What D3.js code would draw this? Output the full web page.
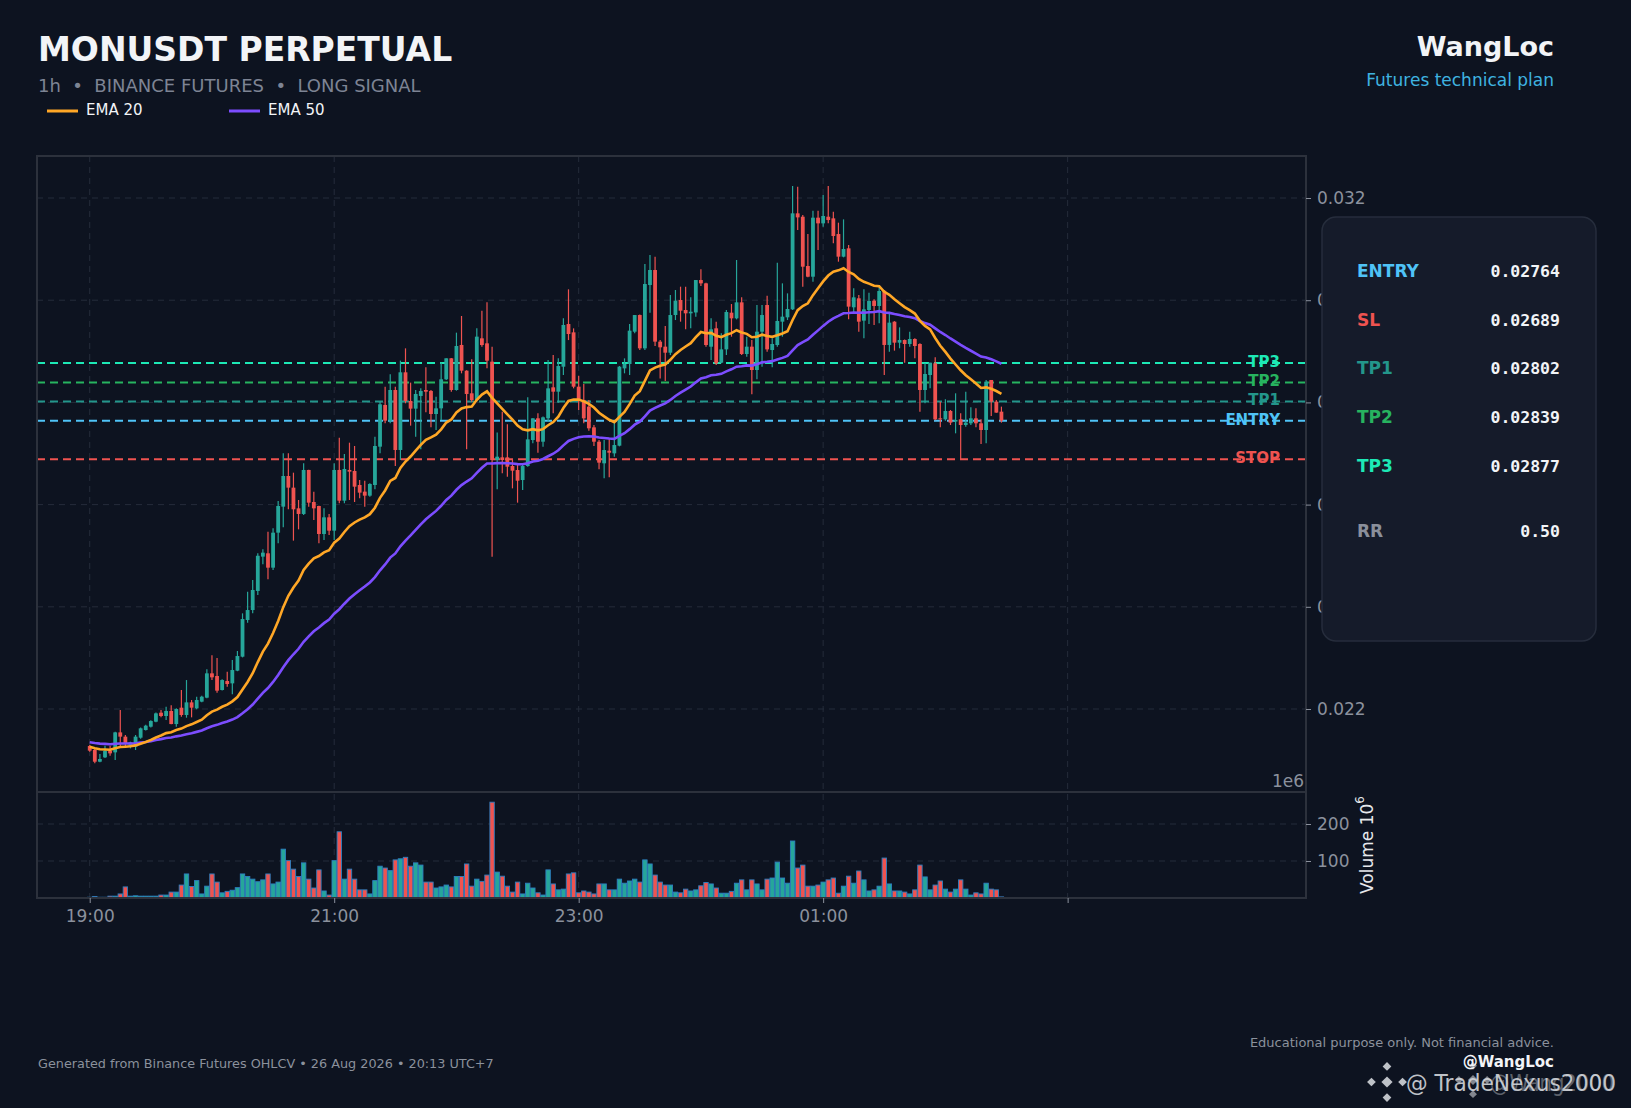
<!DOCTYPE html>
<html>
<head>
<meta charset="utf-8">
<script src="https://cdn.jsdelivr.net/npm/d3@7/dist/d3.min.js"></script>
<style>
  body { margin: 0; background: #0d1320; }
  svg { display: block; font-family: "DejaVu Sans", sans-serif; }
</style>
</head>
<body>
<svg id="chart" width="1631" height="1108"></svg>
<script>
// ---- candles (one per step, 48 steps = 2 hours, first at 19:00) ----
const opens = [
  .021276,.021198,.020969,.021054,.021185,.021152,.021543,.021459,.021263,.021263,
  .021439,.021589,.021654,.021752,.021928,.021863,.021961,.021706,.022026,.021883,
  .02213,.022013,.022144,.022222,.022698,.022646,.022372,.022548,.022502,.02275,
  .023024,.023742,.023937,.02431,.024982,.025047,.024766,.025451,.02596,.02656,
  .026332,.025927,.025817,.026678,.026051,.025973,.025425,.025751,.02549,.026678,
  .026077,.026678,.026658,.026384,.026254,.026175,.026384,.027134,.02795,.027643,
  .028243,.027069,.028589,.028028,.027878,.028126,.028243,.028224,.027773,.027884,
  .028452,.028863,.028243,.029124,.028621,.028178,.028047,.029254,.029156,.028797,
  .026873,.026925,.026925,.026755,.026677,.026481,.026755,.027264,.027689,.027231,
  .027689,.028295,.02821,.028699,.029534,.029371,.028308,.028048,.027917,.027512,
  .027231,.026808,.027055,.027003,.027153,.028666,.028752,.029384,.02971,.029058,
  .030297,.030591,.029189,.029091,.028973,.02971,.030004,.029808,.029743,.02976,
  .030395,.03033,.02909,.02945,.028777,.029038,.029756,.029645,.029958,.028947,
  .029091,.028634,.029384,.029906,.029025,.029123,.02958,.029665,.029821,.0317,
  .031634,.030669,.03046,.031615,.031504,.031634,.031602,.031295,.030852,.031015,
  .029861,.030037,.0296,.029808,.029991,.029887,.030187,.029124,.02958,.029169,
  .029221,.029143,.029241,.029143,.028243,.028536,.028765,.027689,.027669,.027832,
  .027625,.027669,.027558,.027591,.027689,.027591,.02746,.028439,.028015,.027819
];
const highs = [
  .021296,.02123,.02112,.021282,.021282,.021556,.02198,.021491,.02136,.021491,
  .02164,.02169,.02178,.02193,.02198,.022046,.022072,.022013,.022372,.022567,
  .022176,.022241,.02226,.022776,.02305,.022998,.02258,.02273,.022959,.023135,
  .023872,.024296,.024524,.025047,.025125,.02547,.025536,.026071,.027004,.027004,
  .026625,.02609,.026808,.02668,.026254,.02598,.025927,.025817,.026808,.02731,
  .026991,.027212,.027147,.026482,.026469,.026417,.02733,.028015,.028308,.02855,
  .028308,.028817,.029058,.028387,.028243,.028276,.028687,.028243,.028113,.028778,
  .028863,.02887,.029365,.029691,.02863,.028843,.02945,.029795,.029958,.02909,
  .02741,.027819,.027571,.026873,.026808,.026795,.028099,.027689,.027786,.027722,
  .02883,.028928,.028862,.029645,.030213,.029449,.028523,.02836,.028048,.027558,
  .027264,.027264,.027297,.027623,.028712,.028862,.029534,.02971,.02972,.030708,
  .030884,.030852,.02922,.029495,.030102,.0302,.030265,.030265,.030056,.030395,
  .030604,.03034,.029645,.02958,.029352,.029808,.029925,.030787,.030056,.029286,
  .029221,.029906,.029906,.030089,.029254,.030734,.03033,.030134,.032235,.032222,
  .031667,.031295,.031752,.031752,.032058,.032235,.031732,.031517,.031582,.03108,
  .030233,.030102,.030213,.030148,.030017,.030298,.0302,.029743,.02959,.029469,
  .02923,.029385,.029254,.029156,.028765,.028778,.028882,.028015,.028061,.027852,
  .028178,.027787,.028211,.027904,.027884,.027669,.028439,.028439,.028048,.027917
];
const lows = [
  .021165,.020937,.020956,.02104,.021087,.021002,.021263,.021263,.02123,.021198,
  .02142,.02158,.02164,.02174,.021837,.021785,.0217,.021654,.02185,.02183,
  .021837,.021993,.02213,.02221,.022567,.02232,.02236,.022437,.022287,.02274,
  .02301,.02369,.023872,.02423,.024831,.024538,.02472,.025242,.025556,.025908,
  .025295,.025516,.025797,.02596,.025699,.025242,.025308,.025405,.025308,.026025,
  .026025,.02609,.026051,.026123,.02596,.026156,.026299,.027004,.027591,.027591,
  .026756,.026873,.027982,.027545,.02733,.027082,.027806,.027513,.02746,.027656,
  .028439,.02821,.02823,.028569,.027082,.028015,.028015,.02909,.028667,.024981,
  .026299,.026612,.026547,.026318,.026038,.026286,.026742,.027199,.027016,.027134,
  .027623,.027786,.027995,.028536,.02922,.028275,.027851,.02759,.027447,.027147,
  .02669,.026514,.026534,.026938,.02714,.028569,.028536,.029352,.029026,.029026,
  .029756,.029104,.02847,.028419,.028927,.029612,.02958,.02943,.029449,.029678,
  .030278,.029091,.02883,.028732,.028764,.028927,.029286,.029625,.028927,.028895,
  .028158,.028451,.028699,.028993,.028686,.029091,.029286,.029612,.029808,.031374,
  .030265,.030447,.030362,.030982,.031439,.031504,.031113,.030754,.030839,.029626,
  .029743,.029385,.029254,.029535,.029515,.029548,.028536,.028993,.029013,.029059,
  .028778,.029091,.028863,.027819,.027982,.028276,.02765,.027513,.027643,.027558,
  .027395,.026886,.027526,.027558,.027513,.027186,.027199,.027734,.0278,.027604
];
const closes = [
  .021185,.020969,.021022,.021178,.021132,.021543,.021459,.021328,.021348,.021459,
  .021622,.021674,.021765,.021915,.021863,.021961,.021706,.022,.021883,.02213,
  .022026,.022176,.022241,.022698,.02262,.022359,.022567,.022489,.022763,.023037,
  .023761,.023937,.024329,.024999,.02506,.024766,.025451,.025973,.02656,.026332,
  .025908,.025817,.026678,.026038,.025927,.025425,.025751,.02549,.026678,.026077,
  .026697,.026645,.026351,.026234,.026175,.026404,.027147,.027963,.027643,.028243,
  .027069,.028589,.028028,.027878,.028165,.028224,.02821,.027773,.027884,.028452,
  .028863,.028243,.029104,.028621,.028165,.028047,.029287,.029123,.028817,.026873,
  .026938,.026873,.026742,.026664,.026468,.026755,.027277,.027689,.027231,.027708,
  .028275,.02821,.028712,.029515,.029338,.028308,.02806,.027688,.027493,.027231,
  .026821,.027068,.027016,.027166,.028699,.028752,.029404,.02971,.029058,.030317,
  .030591,.029189,.029078,.028973,.02971,.029991,.029795,.029743,.029775,.030395,
  .03033,.029123,.02943,.028764,.029038,.029769,.029645,.029958,.028947,.029091,
  .028634,.029384,.02971,.029038,.029143,.029593,.029678,.029828,.0317,.031621,
  .030656,.03046,.031615,.031504,.031648,.031569,.031256,.030852,.031002,.029874,
  .030056,.02958,.029821,.029985,.029887,.03018,.029124,.029561,.029169,.029221,
  .029143,.029241,.029104,.028243,.028556,.028778,.027669,.027669,.027832,.027604,
  .027656,.027558,.027604,.027689,.027591,.02746,.028406,.028015,.0278,.027643
];
// volume in millions
const volumes = [
  2,4,2,2,5,5,11,30,5,6,
  5,5,5,5,8,8,16,16,35,65,
  31,47,11,32,65,43,14,18,21,28,
  65,58,51,44,49,65,38,43,132,101,
  78,58,95,51,27,76,19,8,101,179,
  51,78,51,22,22,11,47,86,81,74,
  103,106,110,86,95,89,43,43,27,30,
  35,30,58,58,92,32,51,45,62,259,
  70,59,32,16,43,11,40,27,14,8,
  76,38,22,24,65,68,14,19,16,11,
  38,38,22,22,51,40,46,51,43,103,
  92,62,43,35,35,16,14,24,19,22,
  33,42,38,27,13,13,18,40,49,22,
  49,38,22,51,54,97,54,40,154,81,
  89,32,32,35,43,49,54,13,32,59,
  40,73,49,19,22,32,108,38,19,19,
  16,11,22,89,57,22,35,46,24,16,
  24,49,24,8,14,11,40,24,22,3
];

// EMA values just before the window
const ema20Start = 0.02126;
const ema50Start = 0.02135;

// axes
const xTickIdx = [0, 48, 96, 144, 192];
const xTickLabels = ["19:00", "21:00", "23:00", "01:00", ""];
const priceTicks = [0.022, 0.024, 0.026, 0.028, 0.030, 0.032];
const volTicks = [100, 200];

// trade plan
const levelNames = ["TP3", "TP2", "TP1", "ENTRY", "STOP"];
const levelValues = [0.02877, 0.02839, 0.02802, 0.02764, 0.02689];
const planLabels = ["ENTRY", "SL", "TP1", "TP2", "TP3", "RR"];
const planValues = ["0.02764", "0.02689", "0.02802", "0.02839", "0.02877", "0.50"];

// ---- styles ----
const col = {
  bg: "#0d1320", frame: "#2c313c", grid: "#252c3a", tick: "#8b919d",
  up: "#26a69a", down: "#ef5350", volEdge: "#2d7fc0",
  ema20: "#ffa726", ema50: "#7c4dff", white: "#f2f4f7"
};
const levelColor = { TP3: "#1de9b6", TP2: "#27b35f", TP1: "#23968b", ENTRY: "#4fc3f7", STOP: "#ef5350", SL: "#ef5350", RR: "#8a8f9b" };

const L = { left: 37, right: 1306, top: 156, mid: 792, bottom: 898 };

const svg = d3.select("#chart");
svg.append("rect").attr("width", 1631).attr("height", 1108).attr("fill", col.bg);

// scales
const x = d3.scaleLinear().domain([-10.35, 238.8]).range([L.left, L.right]);
const y = d3.scaleLinear().domain([0.020376, 0.032822]).range([L.mid, L.top]);
const yv = d3.scaleLinear().domain([0, 286.5]).range([L.bottom, L.mid]);

// ema from closes
function ema(values, span, start) {
  const k = 2 / (span + 1);
  let prev = start;
  return values.map((v, i) => {
    if (i > 0) prev = prev + k * (v - prev);
    return prev;
  });
}
const ema20 = ema(closes, 20, ema20Start);
const ema50 = ema(closes, 50, ema50Start);

// ---- grid ----
const grid = svg.append("g");
grid.selectAll(".vgrid").data(xTickIdx).join("line")
  .attr("x1", d => x(d)).attr("x2", d => x(d))
  .attr("y1", L.top).attr("y2", L.bottom)
  .attr("stroke", col.grid).attr("stroke-dasharray", "6,5");
grid.selectAll(".pgrid").data(priceTicks).join("line")
  .attr("class", "pgrid")
  .attr("x1", L.left).attr("x2", L.right)
  .attr("y1", d => y(d)).attr("y2", d => y(d))
  .attr("stroke", col.grid).attr("stroke-dasharray", "6,5");
grid.selectAll(".vgrid2").data(volTicks).join("line")
  .attr("class", "vgrid2")
  .attr("x1", L.left).attr("x2", L.right)
  .attr("y1", d => yv(d)).attr("y2", d => yv(d))
  .attr("stroke", col.grid).attr("stroke-dasharray", "6,5");

// ---- volume ----
const isUp = i => closes[i] >= opens[i];
svg.append("g").selectAll("rect").data(volumes).join("rect")
  .attr("x", (d, i) => x(i) - 2.2)
  .attr("width", 4.4)
  .attr("y", d => yv(d))
  .attr("height", d => L.bottom - yv(d))
  .attr("fill", (d, i) => isUp(i) ? col.up : col.down)
  .attr("stroke", col.volEdge).attr("stroke-width", 0.9);

// ---- level lines ----
const levels = svg.append("g");
levelNames.forEach((name, k) => {
  levels.append("line")
    .attr("x1", L.left).attr("x2", L.right)
    .attr("y1", y(levelValues[k])).attr("y2", y(levelValues[k]))
    .attr("stroke", levelColor[name]).attr("stroke-width", 2)
    .attr("stroke-dasharray", "8,5");
});

// ---- candles ----
const candles = svg.append("g").selectAll("g").data(closes).join("g");
candles.append("line")
  .attr("x1", (d, i) => x(i)).attr("x2", (d, i) => x(i))
  .attr("y1", (d, i) => y(highs[i])).attr("y2", (d, i) => y(lows[i]))
  .attr("stroke", (d, i) => isUp(i) ? col.up : col.down).attr("stroke-width", 1.2);
candles.append("rect")
  .attr("x", (d, i) => x(i) - 1.9).attr("width", 3.8)
  .attr("y", (d, i) => y(Math.max(opens[i], closes[i])))
  .attr("height", (d, i) => Math.max(1, Math.abs(y(opens[i]) - y(closes[i]))))
  .attr("fill", (d, i) => isUp(i) ? col.up : col.down);

// ---- EMA lines ----
const line = d3.line().x((d, i) => x(i)).y(d => y(d));
svg.append("path").datum(ema50).attr("d", line)
  .attr("fill", "none").attr("stroke", col.ema50).attr("stroke-width", 2.6);
svg.append("path").datum(ema20).attr("d", line)
  .attr("fill", "none").attr("stroke", col.ema20).attr("stroke-width", 2.6);

// level labels
levelNames.forEach((name, k) => {
  levels.append("text")
    .attr("x", 1280).attr("y", y(levelValues[k]) - 1)
    .attr("text-anchor", "end").attr("dominant-baseline", "central")
    .attr("font-size", 15).attr("font-weight", "bold")
    .attr("fill", levelColor[name]).text(name);
});

// ---- frame ----
svg.append("rect").attr("x", L.left).attr("y", L.top)
  .attr("width", L.right - L.left).attr("height", L.mid - L.top)
  .attr("fill", "none").attr("stroke", col.frame).attr("stroke-width", 2);
svg.append("rect").attr("x", L.left).attr("y", L.mid)
  .attr("width", L.right - L.left).attr("height", L.bottom - L.mid)
  .attr("fill", "none").attr("stroke", col.frame).attr("stroke-width", 2);

// ---- axes ----
function styleAxis(g) {
  g.select(".domain").remove();
  g.selectAll(".tick line").attr("stroke", col.tick);
  g.selectAll(".tick text").attr("fill", col.tick).attr("font-size", 17)
    .attr("font-family", "DejaVu Sans");
}
svg.append("g").attr("transform", `translate(${L.right},0)`)
  .call(d3.axisRight(y).tickValues(priceTicks).tickFormat(d3.format(".3f")).tickSize(5).tickPadding(6))
  .call(styleAxis);
svg.append("g").attr("transform", `translate(${L.right},0)`)
  .call(d3.axisRight(yv).tickValues(volTicks).tickFormat(d3.format("d")).tickSize(5).tickPadding(6))
  .call(styleAxis);
svg.append("g").attr("transform", `translate(0,${L.bottom})`)
  .call(d3.axisBottom(x).tickValues(xTickIdx).tickFormat((d, i) => xTickLabels[i]).tickSize(5).tickPadding(7))
  .call(styleAxis);

svg.append("text").attr("x", 1304).attr("y", 787).attr("text-anchor", "end")
  .attr("fill", col.tick).attr("font-size", 17).text("1e6");
const vlab = svg.append("text")
  .attr("transform", "translate(1367,845) rotate(-90)")
  .attr("text-anchor", "middle").attr("dominant-baseline", "central")
  .attr("fill", "#e6e8ec").attr("font-size", 17);
vlab.append("tspan").text("Volume  10");
vlab.append("tspan").attr("dy", -7).attr("font-size", 12).text("6");

// ---- header ----
svg.append("text").attr("x", 38).attr("y", 61)
  .attr("fill", col.white).attr("font-size", 33).attr("font-weight", "bold")
  .text("MONUSDT PERPETUAL");
svg.append("text").attr("x", 38).attr("y", 92)
  .attr("fill", "#7d8494").attr("font-size", 18).attr("xml:space", "preserve")
  .text("1h  \u2022  BINANCE FUTURES  \u2022  LONG SIGNAL");
svg.append("text").attr("x", 1554).attr("y", 56).attr("text-anchor", "end")
  .attr("fill", col.white).attr("font-size", 27).attr("font-weight", "bold").text("WangLoc");
svg.append("text").attr("x", 1554).attr("y", 86).attr("text-anchor", "end")
  .attr("fill", "#3fb3e0").attr("font-size", 17).text("Futures technical plan");

// legend
const legendItems = [["EMA 20", col.ema20, 47], ["EMA 50", col.ema50, 229]];
legendItems.forEach(([name, c, lx]) => {
  svg.append("line").attr("x1", lx).attr("x2", lx + 31).attr("y1", 111).attr("y2", 111)
    .attr("stroke", c).attr("stroke-width", 3);
  svg.append("text").attr("x", lx + 39).attr("y", 115)
    .attr("fill", col.white).attr("font-size", 15).text(name);
});

// ---- trade plan box ----
svg.append("rect").attr("x", 1322).attr("y", 217).attr("width", 274).attr("height", 424)
  .attr("rx", 14).attr("fill", "#151b2a").attr("stroke", "#262d3c").attr("stroke-width", 1.5);
const rowY = [277, 326, 374, 423, 472, 537];
planLabels.forEach((name, k) => {
  svg.append("text").attr("x", 1357).attr("y", rowY[k])
    .attr("fill", levelColor[name])
    .attr("font-size", 17).attr("font-weight", "bold").text(name);
  svg.append("text").attr("x", 1560).attr("y", rowY[k]).attr("text-anchor", "end")
    .attr("fill", col.white).attr("font-size", 16.5).attr("font-weight", "bold")
    .attr("font-family", "DejaVu Sans Mono").text(planValues[k]);
});

// ---- footer ----
svg.append("text").attr("x", 38).attr("y", 1068)
  .attr("fill", "#8b919c").attr("font-size", 12.8)
  .text("Generated from Binance Futures OHLCV \u2022 26 Aug 2026 \u2022 20:13 UTC+7");
svg.append("text").attr("x", 1554).attr("y", 1047).attr("text-anchor", "end")
  .attr("fill", "#8b919c").attr("font-size", 13)
  .text("Educational purpose only. Not financial advice.");

// watermark (binance-style mark + handle)
function logo(cx, cy, s, op) {
  const g = svg.append("g").attr("transform", `translate(${cx},${cy}) rotate(45)`)
    .attr("fill", "#d2d5da").attr("opacity", op);
  g.append("rect").attr("x", -s * 0.18).attr("y", -s * 0.18).attr("width", s * 0.36).attr("height", s * 0.36);
  [[-1, -1], [1, -1], [-1, 1], [1, 1]].forEach(([a, b]) => {
    g.append("rect").attr("x", a * s * 0.5 - s * 0.14).attr("y", b * s * 0.5 - s * 0.14)
      .attr("width", s * 0.28).attr("height", s * 0.28);
  });
}
logo(1387, 1082, 22, 0.9);
svg.append("text").attr("x", 1406).attr("y", 1091)
  .attr("fill", "#d2d5da").attr("opacity", 0.9).attr("font-size", 23)
  .attr("textLength", 210).attr("lengthAdjust", "spacingAndGlyphs").text("@ TradeNexus2000");
logo(1473, 1080, 20, 0.6);
svg.append("text").attr("x", 1490).attr("y", 1091)
  .attr("fill", "#d2d5da").attr("opacity", 0.4).attr("font-size", 23)
  .attr("textLength", 124).attr("lengthAdjust", "spacingAndGlyphs").text("@Wang2000");
svg.append("text").attr("x", 1554).attr("y", 1067).attr("text-anchor", "end")
  .attr("fill", col.white).attr("font-size", 15).attr("font-weight", "bold").text("@WangLoc");
</script>
</body>
</html>
